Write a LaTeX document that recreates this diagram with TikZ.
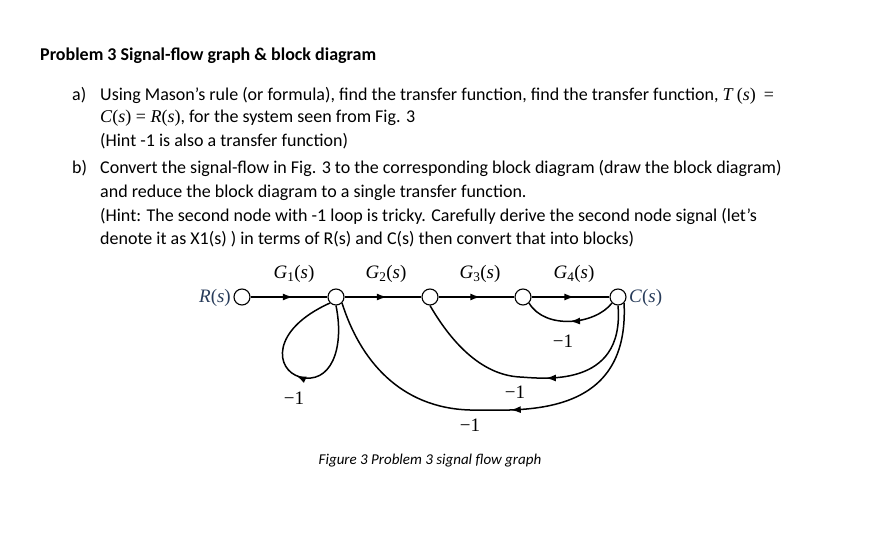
\documentclass[tikz,border=0pt]{standalone}
\usepackage{fontspec}
\setmainfont{Carlito}
\newfontfamily\tms{Liberation Serif}
\usetikzlibrary{arrows.meta,decorations.markings}
\definecolor{lbl}{RGB}{40,60,90}
\newcommand{\gsub}[1]{\textit{G}\textsubscript{#1}(\textit{s})}
\newcommand{\mi}[1]{{\tms\itshape #1}}
\begin{document}
\begin{tikzpicture}[x=1pt,y=-1pt,
  sig/.style={circle,draw,line width=1.1pt,minimum size=16pt,inner sep=0pt,fill=white},
  txt/.style={anchor=base west,inner sep=0pt,font=\fontsize{18}{21}\selectfont},
  gl/.style={font=\tms\fontsize{19}{21}\selectfont,inner sep=0pt},
  br/.style={line width=1.5pt,postaction={decorate},decoration={markings,mark=at position #1 with {\arrow{Latex[length=10pt,width=7pt]}}}}]
\useasboundingbox (0,0) rectangle (885,540);
\node[txt,font=\bfseries\fontsize{18}{21}\selectfont] (t) at (40,61) {Problem 3 Signal-flow graph \& block diagram};
\node[txt] (a) at (72,101) {a)};
\node[txt] (a1) at (100,101) {Using Mason’s rule (or formula), find the transfer function, find the transfer function, \mi{T}\ {\tms(\textit{s})}\ \ {\tms=}};
\node[txt] (a2) at (100,123) {{\tms\textit{C}(\textit{s}) = \textit{R}(\textit{s})}, for the system seen from Fig. 3};
\node[txt] (a3) at (100,147) {(Hint -1 is also a transfer function)};
\node[txt] (b) at (72,174) {b)};
\node[txt] (b1) at (100,174) {Convert the signal-flow in Fig. 3 to the corresponding block diagram (draw the block diagram)};
\node[txt] (b2) at (100,197) {and reduce the block diagram to a single transfer function.};
\node[txt] (b3) at (100,221) {(Hint: The second node with -1 loop is tricky. Carefully derive the second node signal (let’s};
\node[txt] (b4) at (100,244) {denote it as X1(s) ) in terms of R(s) and C(s) then convert that into blocks)};

\node[sig] (n1) at (242,297) {};
\node[sig] (n2) at (336,297) {};
\node[sig] (n3) at (430,297) {};
\node[sig] (n4) at (523,297) {};
\node[sig] (n5) at (618,297) {};
\node[gl,text=lbl,anchor=east] (R) at (231,298) {\textit{R}(\textit{s})};
\node[gl,text=lbl,anchor=west] (C) at (629,298) {\textit{C}(\textit{s})};
\node[gl] (g1) at (294,274) {\gsub{1}};
\node[gl] (g2) at (386,274) {\gsub{2}};
\node[gl] (g3) at (480,274) {\gsub{3}};
\node[gl] (g4) at (574,274) {\gsub{4}};

\draw[br=0.55] (n1) -- (n2);
\draw[br=0.55] (n2) -- (n3);
\draw[br=0.55] (n3) -- (n4);
\draw[br=0.55] (n4) -- (n5);
\draw[br=0.5] (n2.south) .. controls (345,350) and (330,385) .. (300,377)
  .. controls (275,370) and (270,330) .. (n2.south west);
\draw[br=0.5] (n5.south west) .. controls (595,325) and (545,330) .. (n4.south east);
\draw[br=0.45] (n5.south) .. controls (625,390) and (540,378) .. (520,377)
  .. controls (480,375) and (450,340) .. (n3.south);
\draw[br=0.45] (n5.south east) .. controls (630,420) and (520,410) .. (470,410)
  .. controls (400,408) and (360,360) .. (n2.south east);
\node[gl] (m1) at (294,398) {−1};
\node[gl] (m2) at (563,341) {−1};
\node[gl] (m3) at (515,392) {−1};
\node[gl] (m4) at (470,425) {−1};
\node[font=\itshape\fontsize{15}{17}\selectfont] (cap) at (430,461) {Figure 3 Problem 3 signal flow graph};
\end{tikzpicture}
\end{document}
